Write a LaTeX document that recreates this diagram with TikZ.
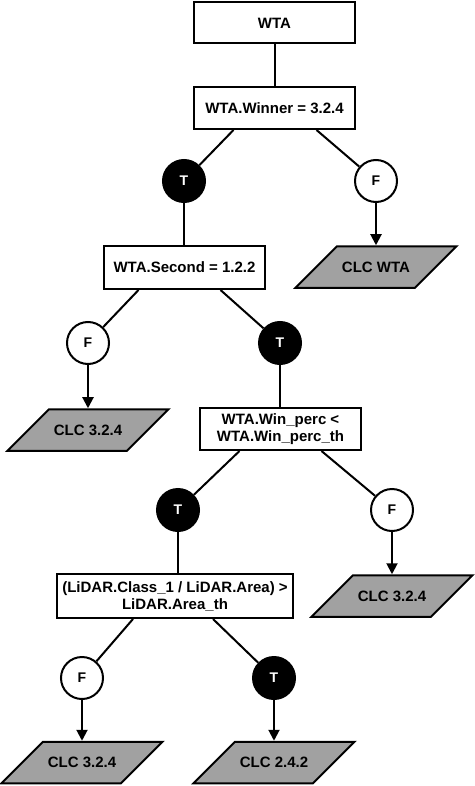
\documentclass[tikz,border=0pt]{standalone}
\usepackage{fontspec}
\setmainfont{Liberation Sans}
\usetikzlibrary{shapes.geometric,arrows.meta}

\begin{document}
\begin{tikzpicture}[x=1pt,y=-1pt,
    testbox/.style={draw,line width=2pt,fill=white,minimum width=161pt,minimum height=42pt,inner sep=2pt,align=center,font=\fontsize{15}{17}\selectfont\bfseries},
    clcbox/.style={draw,line width=2pt,fill=black!37,trapezium,trapezium left angle=45,trapezium right angle=135,trapezium stretches body,minimum width=161pt,text height=10.5pt,text depth=0pt,inner xsep=2pt,inner ysep=15.5pt,font=\fontsize{15}{17}\selectfont\bfseries},
    tnode/.style={circle,draw,line width=2pt,fill=black,text=white,minimum size=42pt,inner sep=0pt,font=\fontsize{14}{16}\selectfont\bfseries},
    fnode/.style={circle,draw,line width=2pt,fill=white,minimum size=42pt,inner sep=0pt,font=\fontsize{14}{16}\selectfont\bfseries},
    branch/.style={line width=2pt},
    yield/.style={line width=2pt,-{Triangle[length=11pt,width=11pt]}}]
  \useasboundingbox (0,0) rectangle (474,786);%

  % Drawing test boxes
  \node [testbox,minimum height=41pt] (wta) at (274.5,23) {WTA};%
  \node [testbox] (winner) at (274.5,108) {WTA.Winner = 3.2.4};%
  \node [testbox,minimum height=43pt] (second) at (184.5,267.5) {WTA.Second = 1.2.2};%
  \node [testbox] (winperc) at (280.5,429) {WTA.Win\_perc <\\WTA.Win\_perc\_th};%
  \node [testbox,minimum width=236pt,minimum height=44pt] (lidar) at (175,596) {(LiDAR.Class\_1 / LiDAR.Area) >\\LiDAR.Area\_th};%

  % Drawing true and false circles
  \node [tnode] (t1) at (184,181) {T};%
  \node [fnode] (f1) at (376,181) {F};%
  \node [fnode] (f2) at (88,343) {F};%
  \node [tnode] (t2) at (280,343) {T};%
  \node [tnode] (t3) at (178,510) {T};%
  \node [fnode] (f3) at (392,510) {F};%
  \node [fnode] (f4) at (82,678) {F};%
  \node [tnode] (t4) at (274,678) {T};%

  % Drawing classes
  \node [clcbox] (clcwta) at (376,267) {CLC WTA};%
  \node [clcbox] (clc1) at (88,430) {CLC 3.2.4};%
  \node [clcbox] (clc2) at (392,596) {CLC 3.2.4};%
  \node [clcbox] (clc3) at (82,762.5) {CLC 3.2.4};%
  \node [clcbox] (clc4) at (274,762.5) {CLC 2.4.2};%

  % Drawing branches
  \draw [branch] (wta.south) -- (winner.north);%
  \draw [branch] ([xshift=-41pt]winner.south) -- (t1);%
  \draw [branch] ([xshift=42pt]winner.south) -- (f1);%
  \draw [branch] (t1) -- (t1 |- second.north);%
  \draw [branch] ([xshift=-46pt]second.south) -- (f2);%
  \draw [branch] ([xshift=36pt]second.south) -- (t2);%
  \draw [branch] (t2) -- (t2 |- winperc.north);%
  \draw [branch] ([xshift=-41pt]winperc.south) -- (t3);%
  \draw [branch] ([xshift=41pt]winperc.south) -- (f3);%
  \draw [branch] (t3) -- (t3 |- lidar.north);%
  \draw [branch] ([xshift=-42pt]lidar.south) -- (f4);%
  \draw [branch] ([xshift=38pt]lidar.south) -- (t4);%

  % Drawing arrows to classes
  \draw [yield] (f1) -- (f1 |- clcwta.north);%
  \draw [yield] (f2) -- (f2 |- clc1.north);%
  \draw [yield] (f3) -- (f3 |- clc2.north);%
  \draw [yield] (f4) -- (f4 |- clc3.north);%
  \draw [yield] (t4) -- (t4 |- clc4.north);%
\end{tikzpicture}
\end{document}
